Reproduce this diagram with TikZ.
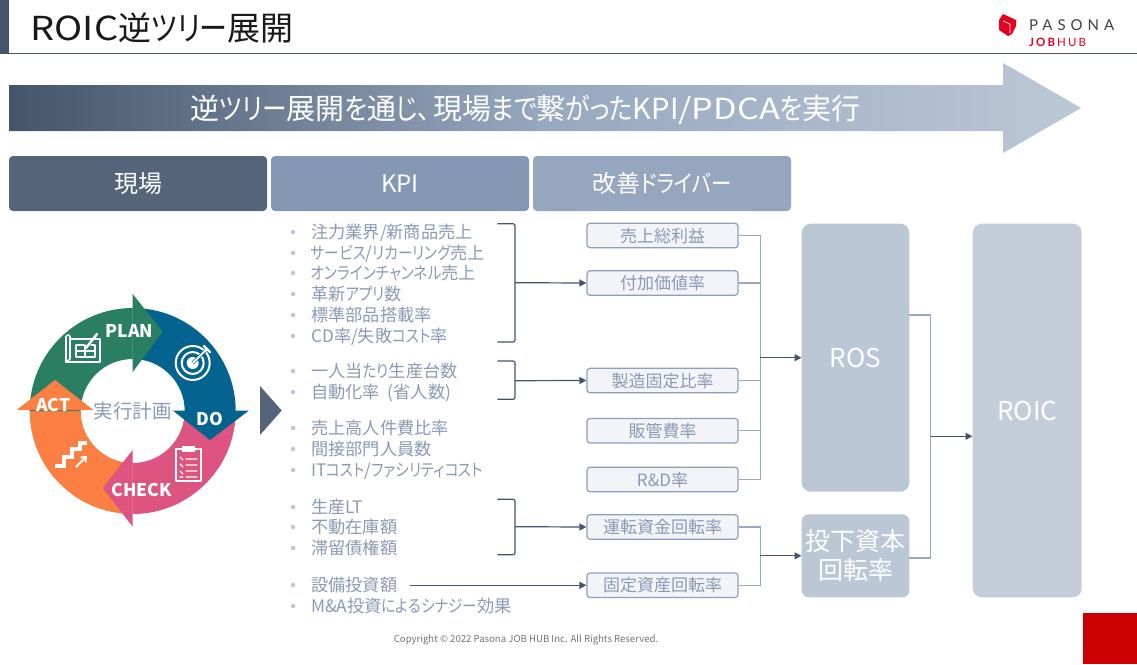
\documentclass[tikz,border=0pt]{standalone}
\usepackage{fontspec}
\setmainfont[RawFeature=+palt]{Noto Sans CJK JP}
\newfontfamily\knf[RawFeature=+palt,FakeStretch=0.85]{Noto Sans CJK JP}
\newfontfamily\wdrf[FakeStretch=1.18]{Noto Sans CJK JP}
\newfontfamily\ttlf[FakeStretch=1.15]{Noto Sans CJK JP}
\newcommand{\kn}[1]{{\knf #1}}
\newcommand{\wdr}[1]{{\wdrf #1}}
\newfontfamily\logofont[LetterSpace=33]{Lato}
\newfontfamily\logobfont[LetterSpace=18]{Lato}
\usetikzlibrary{arrows.meta,calc}
\definecolor{inkdark}{HTML}{44546A}
\definecolor{txtblue}{HTML}{8A9AB4}
\definecolor{barA}{HTML}{566479}
\definecolor{barB}{HTML}{8498B4}
\definecolor{barC}{HTML}{96A6BE}
\definecolor{boxfill}{HTML}{F2F4F8}
\definecolor{boxline}{HTML}{8C9FBD}
\definecolor{rosfill}{HTML}{BCC7D6}
\definecolor{roicfill}{HTML}{C5CDDA}
\definecolor{busline}{HTML}{9AA8BE}
\definecolor{pdgreen}{HTML}{2A7F62}
\definecolor{pdblue}{HTML}{05638F}
\definecolor{pdpink}{HTML}{DD5480}
\definecolor{pdorange}{HTML}{FB7F42}
\definecolor{logored}{HTML}{E60020}
\tikzset{
  x=1pt,y=-1pt,
  headbar/.style={rounded corners=4pt,minimum height=55pt,minimum width=258pt,text=white,font=\fontsize{24}{29}\selectfont,inner sep=0pt,text height=19pt,text depth=1pt},
  drvbox/.style={draw=boxline,line width=1.2pt,fill=boxfill,rounded corners=3pt,minimum width=151pt,minimum height=24.5pt,text=txtblue,font=\fontsize{17}{20}\selectfont,inner sep=0pt,text height=13.3pt,text depth=.3pt},
  bigbox/.style={rounded corners=9pt,text=white,inner sep=0pt,font=\fontsize{26}{31}\selectfont,align=center},
  kpitext/.style={anchor=west,text=txtblue,font=\fontsize{17.2}{20}\selectfont,inner sep=0pt,text height=13.3pt,text depth=.3pt},
  kpidot/.style={circle,fill=rosfill,minimum size=4.5pt,inner sep=0pt},
  feed/.style={busline,line width=1.1pt},
  flow/.style={inkdark,line width=1.2pt,-{Triangle[length=7pt,width=7pt]}},
  brk/.style={inkdark,line width=1.2pt,rounded corners=2pt},
  pdlabel/.style={text=white,font=\bfseries\fontsize{17.5}{20}\selectfont,inner sep=0pt},
  icon/.style={white,line width=1.6pt,line cap=round,line join=round},
}
\newcommand{\kpi}[3]{\node[kpidot] (d#1) at (293,#2) {};\node[kpitext] (t#1) at (311,#2) {#3};}
\newcommand{\band}[3]{\fill[#1] ($(c)+(#2:103pt)$) arc[start angle=#2,end angle=#3,radius=103pt] -- ($(c)+(#3:52pt)$) arc[start angle=#3,end angle=#2,radius=52pt] -- cycle;}
\begin{document}
\begin{tikzpicture}
\useasboundingbox (0,0) rectangle (1137,664);
\fill[white] (0,0) rectangle (1137,664);
% header
\fill[inkdark] (0,0) rectangle (9,53);
\draw[inkdark,line width=1.2pt] (0,53.5) -- (1137,53.5);
\node[anchor=west,inner sep=0pt,text=black!90,font=\fontsize{33}{38}\selectfont] (title) at (30.5,28) {{\ttlf ROIC}逆\kn{ツリー}展開};
% logo
\fill[logored] (999,20) -- (1003,14) -- (1016,20) -- (1016,26) -- (1012,34) -- (1008,36) -- (999,30) -- cycle;
\draw[white,line width=.7pt] (1003,21) -- (1010,24) -- (1010,33);
\node[anchor=west,inner sep=0pt,text=black!75,font=\logofont\fontsize{15}{18}\selectfont] (pasona) at (1029,25) {PASONA};
\node[anchor=west,inner sep=0pt,text=logored,font=\logobfont\fontsize{11.5}{14}\selectfont] (jobhub) at (1029,42.5) {\textbf{JOB}HUB};
% banner
\shade[left color=inkdark,right color=rosfill,middle color=barB!85!white,shading angle=90] (9,85) -- (1003,85) -- (1003,63) -- (1081,108) -- (1003,153) -- (1003,131) -- (9,131) -- cycle;
\node[text=white,inner sep=0pt,font=\fontsize{29}{34}\selectfont,text height=22.5pt,text depth=.5pt] (banner) at (525.5,108) {逆\kn{ツリー}展開\kn{を}通\kn{じ、}\hspace{3pt}現場\kn{まで}繋\kn{がった}KPI\wdr{/PDCA}\kn{を}実行};
% column heads
\node[headbar,fill=barA] (h1) at (138,183.5) {現場};
\node[headbar,fill=barB] (h2) at (400,183.5) {KPI};
\node[headbar,fill=barC] (h3) at (662,183.5) {改善\kn{ドライバー}};
% PDCA ring
\coordinate (c) at (132.7,411);
\band{pdblue}{90}{0}
\band{pdpink}{0}{-90}
\band{pdorange}{-90}{-180}
\band{pdgreen}{180}{90}
\fill[pdgreen] (132.7,294) -- (162.7,331.7) -- (132.7,372) -- cycle;
\fill[pdblue] (172.7,410.5) -- (249,410.5) -- (210,440) -- cycle;
\fill[pdpink] (132.7,450) -- (102.7,488) -- (132.7,526.7) -- cycle;
\fill[pdorange] (16.7,410) -- (55,380) -- (93.3,410) -- cycle;
\node[pdlabel] (plan) at (129.3,330.7) {PLAN};
\node[pdlabel] (do) at (210,419) {DO};
\node[pdlabel] (check) at (141.7,490) {CHECK};
\node[pdlabel] (act) at (53.3,405) {ACT};
\node[text=txtblue,inner sep=0pt,font=\fontsize{19.5}{23}\selectfont] (center) at (132.7,410.7) {実行計画};
% plan icon
\draw[icon] (66,337) -- (66,362) -- (100,362) -- (100,339) -- (70,339);
\draw[icon] (66,337) arc[start angle=180,end angle=0,radius=2pt] -- (70,359) -- (66,362);
\draw[icon,line width=1.3pt] (76,345) -- (84,345) (76,345) -- (76,357) -- (95,357) -- (95,345) -- (91,345) (76,351) -- (95,351) (85,345) -- (85,357);
\draw[icon,line width=2.4pt] (86,348) -- (97,334);
% target icon
\draw[icon,line width=2pt] (192.7,363) circle[radius=17pt] (192.7,363) circle[radius=11pt];
\fill[white] (192.7,363) circle[radius=6pt];
\draw[pdblue,line width=3.2pt] (192.7,363) -- (205,351);
\draw[icon,line width=1.8pt] (192.7,363) -- (207,349);
\draw[icon,line width=2.4pt] (204,346) -- (210,352);
% clipboard icon
\draw[icon,line width=1.7pt] (176,449) rectangle (201,481);
\fill[white] (182,446) rectangle (195,452);
\draw[icon,line width=1.3pt] (180,457) -- (183,460) (186,459) -- (197,459) (180,464) -- (183,467) (186,465) -- (197,465) (180,471) -- (183,474) (186,471) -- (197,471) (186,477) -- (197,477) (180,477) -- (183,477);
% stairs icon
\draw[white,line width=3.4pt,line join=miter] (55,466) -- (64,466) -- (64,457) -- (72,457) -- (72,449) -- (80,449) -- (80,443) -- (87,443);
\draw[white,line width=2pt,-{Straight Barb[length=4pt,width=7pt]}] (76,467) -- (87,456);
% pointer
\fill[barA] (260,386) -- (281.7,410.5) -- (260,435) -- cycle;
% KPI lists
\kpi{a}{232}{注力業界/新商品売上}
\kpi{b}{253}{\kn{サービス}/\kn{リカーリング}売上}
\kpi{c}{273}{\kn{オンラインチャンネル}売上}
\kpi{d}{294}{革新\kn{アプリ}数}
\kpi{e}{315}{標準部品搭載率}
\kpi{f}{336}{CD率/失敗\kn{コスト}率}
\kpi{g}{371}{一人当\kn{たり}生産台数}
\kpi{h}{392}{自動化率\hspace{4pt} (省人数)}
\kpi{i}{428}{売上高人件費比率}
\kpi{j}{449}{間接部門人員数}
\kpi{k}{470}{IT\kn{コスト}/\kn{ファシリティコスト}}
\kpi{l}{507}{生産LT}
\kpi{m}{527}{不動在庫額}
\kpi{n}{548}{滞留債権額}
\kpi{o}{585}{設備投資額}
\kpi{p}{606}{M\&A投資\kn{によるシナジー}効果}
% driver boxes
\node[drvbox] (b1) at (662.5,235.5) {売上総利益};
\node[drvbox] (b2) at (662.5,283) {付加価値率};
\node[drvbox] (b3) at (662.5,380.5) {製造固定比率};
\node[drvbox] (b4) at (662.5,430.7) {販管費率};
\node[drvbox] (b5) at (662.5,479.5) {R\&D率};
\node[drvbox] (b6) at (662.5,527) {運転資金回転率};
\node[drvbox] (b7) at (662.5,585.3) {固定資産回転率};
% big boxes
\node[bigbox,fill=rosfill,minimum width=107.6pt,minimum height=268pt,text height=19.5pt,text depth=.5pt] (ros) at (855.5,357.7) {ROS};
\node[bigbox,fill=rosfill,minimum width=107.6pt,minimum height=83pt,rounded corners=7pt,font=\fontsize{25}{30}\selectfont] (ivt) at (855.5,555.8) {投下資本\\[-1pt]回転率};
\node[bigbox,fill=roicfill,minimum width=109pt,minimum height=373.6pt,text height=19.5pt,text depth=.5pt] (roic) at (1027.2,410.5) {ROIC};
% brackets
\coordinate (k1) at (515,282.7);
\coordinate (k2) at (515,380.7);
\coordinate (k3) at (515,526.7);
\draw[brk] (497.3,223.7) -- (k1 |- 0,223.7) -- (k1 |- 0,342) -- (497.3,342);
\draw[brk] (497.3,361) -- (k2 |- 0,361) -- (k2 |- 0,399.3) -- (497.3,399.3);
\draw[brk] (497.3,499.3) -- (k3 |- 0,499.3) -- (k3 |- 0,554.7) -- (497.3,554.7);
\draw[flow] (k1) -- (b2.west);
\draw[flow] (k2) -- (b3.west);
\draw[flow] (k3) -- (b6.west);
\coordinate (k4) at (410,585.3);
\draw[flow] (k4) -- (b7.west);
% buses
\coordinate (busa) at (760.3,357.7);
\coordinate (busb) at (760.3,555.8);
\coordinate (busc) at (930.7,436.3);
\coordinate (rosout) at (909.3,315);
\coordinate (ivtout) at (909.3,558);
\foreach \n in {b1,b2,b3,b4,b5} \draw[feed] (\n.east) -| (busa);
\foreach \n in {b6,b7} \draw[feed] (\n.east) -| (busb);
\draw[flow] (busa) -- (ros.west);
\draw[flow] (busb) -- (ivt.west);
\draw[feed] (rosout) -| (busc);
\draw[feed] (ivtout) -| (busc);
\draw[flow] (busc) -- (roic.west |- busc);
% footer
\node[text=black!55,inner sep=0pt,font=\fontsize{9.6}{12}\selectfont] (copy) at (526,640) {Copyright © 2022 Pasona JOB HUB Inc. All Rights Reserved.};
\fill[red!80!black] (1083.3,613) rectangle (1137,664);
\end{tikzpicture}
\end{document}
